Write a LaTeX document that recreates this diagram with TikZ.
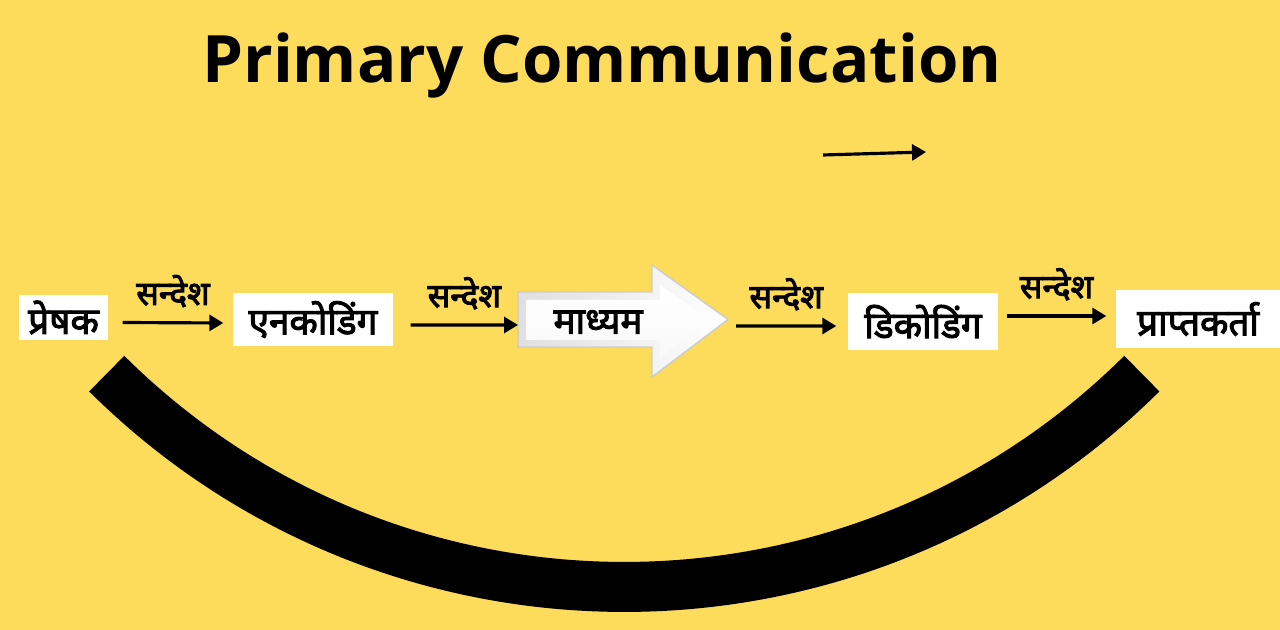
\documentclass[tikz,border=0pt]{standalone}
\usepackage{fontspec}
\usepackage{tikz}
\newfontfamily\devfont[Script=Devanagari, FakeBold=2.8]{Noto Sans}
\newfontfamily\titlefont{Open Sans}
\usetikzlibrary{arrows.meta}
\definecolor{bgyellow}{RGB}{253,220,92}
\tikzset{
	msgbox/.style={fill=white, inner sep=0pt, font=\devfont\fontsize{10.5}{12}\selectfont},
	msgarrow/.style={line width=0.9pt, -{Triangle[length=0.14cm,width=0.16cm]}},
	msglabel/.style={font=\devfont\fontsize{9.5}{11}\selectfont, inner sep=1pt},
}

\begin{document}
\begin{tikzpicture}

	\useasboundingbox (0,0) rectangle (12.8,6.3);
	\fill[bgyellow] (0,0) rectangle (12.8,6.3);

	\node (T) [anchor=base, font=\titlefont\bfseries\fontsize{18.6}{22}\selectfont] at (6.02,5.47) {Primary Communication};

	\node (P1)[msgbox, minimum width=0.89cm, minimum height=0.45cm] at (0.635,3.125) {प्रेषक};
	\node (P2)[msgbox, minimum width=1.60cm, minimum height=0.53cm] at (3.13,3.105) {एनकोडिंग};
	\node (P4)[msgbox, minimum width=1.50cm, minimum height=0.57cm] at (9.23,3.085) {डिकोडिंग};
	\node (P5)[msgbox, minimum width=1.64cm, minimum height=0.58cm] at (11.98,3.11) {प्राप्तकर्ता};

	% medium arrow
	\shade[left color=gray!25, right color=white, draw=gray!40, line width=0.4pt] (5.18,3.38) -- (6.52,3.38) -- (6.52,3.65) -- (7.28,3.105) -- (6.52,2.53) -- (6.52,2.83) -- (5.18,2.83) -- cycle;
	\shade[top color=white, bottom color=gray!5, draw=none] (5.26,3.30) -- (6.60,3.30) -- (6.60,3.45) -- (7.10,3.105) -- (6.60,2.72) -- (6.60,2.90) -- (5.26,2.90) -- cycle;
	\coordinate (Mt) at (5.18,3.05);
	\coordinate (Mh) at (7.28,3.105);
	\node (P3)[msgbox, fill=none] at (5.98,3.08) {माध्यम};

	\draw [msgarrow] ([xshift=0.14cm,yshift=-0.05cm]P1.east) to node[msglabel, above=3pt] (L1) {सन्देश} ([xshift=-0.09cm,yshift=-0.035cm]P2.west);
	\draw [msgarrow] ([xshift=0.17cm,yshift=-0.055cm]P2.east) to node[msglabel, above=3pt] (L2) {सन्देश} (Mt);
	\draw [msgarrow] ([xshift=0.08cm,yshift=-0.065cm]Mh) to node[msglabel, above=3pt] (L3) {सन्देश} ([xshift=-0.11cm,yshift=-0.045cm]P4.west);
	\draw [msgarrow] ([xshift=0.08cm,yshift=0.055cm]P4.east) to node[msglabel, above=3pt] (L4) {सन्देश} ([xshift=-0.09cm,yshift=0.03cm]P5.west);

	\coordinate (A1) at (8.23,4.75);
	\coordinate (A2) at (9.26,4.78);
	\draw [msgarrow] (A1) to (A2);

	% feedback band
	\draw[line width=0.5cm] ([shift={(-134.8:7.345)}]6.2425,7.775) arc[start angle=-134.8, end angle=-45.2, radius=7.345];

\end{tikzpicture}
\end{document}
